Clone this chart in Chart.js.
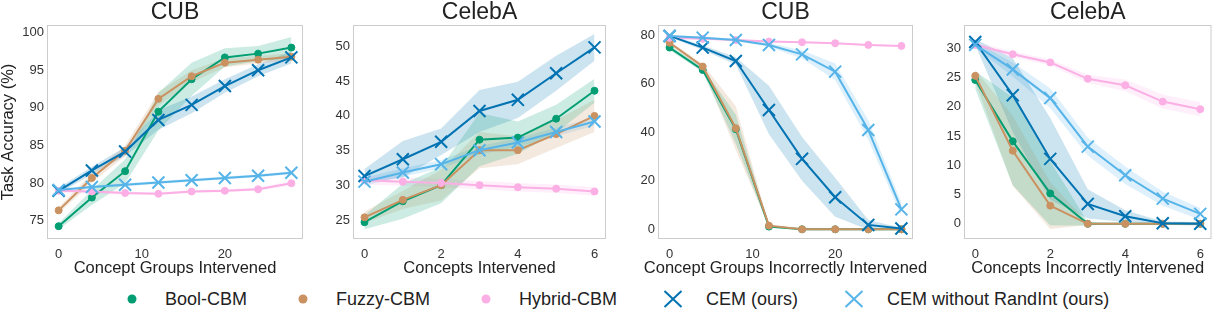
<!DOCTYPE html>
<html>
<head>
<meta charset="utf-8">
<script src="https://cdn.jsdelivr.net/npm/chart.js@4.4.1/dist/chart.umd.min.js"></script>
<style>
  body { margin: 0; background: #fff; width: 1222px; height: 311px; overflow: hidden; position: relative;
         font-family: "Liberation Sans", Arial, sans-serif; }
  canvas.panel { position: absolute; left: 0; top: 0; }
  #legend { position: absolute; left: 122px; top: 289px; height: 20px; display: flex; align-items: center;
            font-size: 18px; color: #222; white-space: nowrap; }
  .item { display: flex; align-items: center; margin-right: 46px; }
  .item svg { margin-right: 23px; }
</style>
</head>
<body>
<canvas id="p1" class="panel" width="1222" height="280"></canvas>
<canvas id="p2" class="panel" width="1222" height="280"></canvas>
<canvas id="p3" class="panel" width="1222" height="280"></canvas>
<canvas id="p4" class="panel" width="1222" height="280"></canvas>
<div id="legend"></div>
<script>
// series (same order in every panel)
const seriesNames = ["Bool-CBM", "Fuzzy-CBM", "Hybrid-CBM", "CEM (ours)", "CEM without RandInt (ours)"];
const seriesColors = ["#029e73", "#ca9161", "#fbafe4", "#0173b2", "#56b4e9"];
const seriesMarkers = ["circle", "circle", "circle", "crossRot", "crossRot"];

// x values
const cubSteps = [0, 4, 8, 12, 16, 20, 24, 28];
const celebaSteps = [0, 1, 2, 3, 4, 5, 6];

// tick labels
const cubXTicks = [0, 10, 20];
const celebaXTicks = [0, 2, 4, 6];
const cubYTicks = [75, 80, 85, 90, 95, 100];
const celebaYTicks = [25, 30, 35, 40, 45, 50];
const cubWrongYTicks = [0, 20, 40, 60, 80];
const celebaWrongYTicks = [0, 5, 10, 15, 20, 25, 30];

// CUB, concept groups intervened (mean / spread)
const cubBool = [74.3, 78.1, 81.6, 89.5, 93.8, 96.7, 97.2, 98.0];
const cubBoolSd = [0.4, 1.0, 1.6, 2.5, 2.2, 1.2, 1.0, 1.4];
const cubFuzzy = [76.4, 80.7, 84.3, 91.2, 94.2, 96.0, 96.4, 96.8];
const cubFuzzySd = [0.4, 0.6, 0.7, 0.9, 0.8, 0.6, 0.5, 0.5];
const cubHybrid = [79.0, 78.9, 78.7, 78.6, 78.9, 79.0, 79.2, 80.0];
const cubHybridSd = [0.3, 0.3, 0.2, 0.2, 0.2, 0.2, 0.2, 0.3];
const cubCem = [79.0, 81.7, 84.2, 88.4, 90.4, 92.9, 95.0, 96.7];
const cubCemSd = [0.4, 0.5, 0.6, 1.3, 1.1, 0.9, 0.8, 0.8];
const cubCemNoRand = [79.1, 79.5, 79.8, 80.1, 80.4, 80.7, 81.0, 81.4];
const cubCemNoRandSd = [0.2, 0.2, 0.2, 0.2, 0.2, 0.2, 0.2, 0.2];

// CelebA, concepts intervened
const celebaBool = [24.8, 27.8, 30.1, 36.6, 36.9, 39.6, 43.6];
const celebaBoolSd = [1.0, 2.5, 2.6, 3.8, 2.3, 2.0, 1.7];
const celebaFuzzy = [25.5, 28.0, 30.1, 35.1, 35.1, 37.4, 40.0];
const celebaFuzzySd = [0.8, 1.3, 2.2, 2.6, 2.0, 2.0, 2.3];
const celebaHybrid = [30.8, 30.6, 30.4, 30.1, 29.8, 29.6, 29.2];
const celebaHybridSd = [0.6, 0.6, 0.6, 0.6, 0.6, 0.6, 0.6];
const celebaCem = [31.4, 33.8, 36.3, 40.7, 42.3, 46.1, 49.8];
const celebaCemSd = [1.0, 2.6, 1.9, 3.0, 2.6, 2.5, 1.9];
const celebaCemNoRand = [30.6, 31.9, 33.1, 35.1, 36.2, 37.7, 39.2];
const celebaCemNoRandSd = [0.6, 0.6, 0.6, 0.6, 0.6, 0.6, 0.6];

// CUB, concept groups incorrectly intervened
const cubWrongBool = [74.8, 65.6, 41.2, 1.1, 0, 0, 0, 0];
const cubWrongBoolSd = [1.0, 1.0, 6.0, 0.5, 0, 0, 0, 0];
const cubWrongFuzzy = [76.8, 67.0, 41.6, 1.5, 0, 0, 0, 0];
const cubWrongFuzzySd = [0.8, 1.0, 9.0, 0.5, 0, 0, 0, 0];
const cubWrongHybrid = [78.8, 78.4, 77.9, 77.3, 77.0, 76.6, 75.9, 75.5];
const cubWrongHybridSd = [0.3, 0.3, 0.3, 0.3, 0.3, 0.3, 0.3, 0.3];
const cubWrongCem = [79.6, 74.8, 69.3, 49.1, 29.0, 13.2, 1.8, 0.3];
const cubWrongCemSd = [0.5, 1.0, 1.5, 10.0, 9.0, 8.0, 2.0, 0.3];
const cubWrongCemNoRand = [79.6, 78.9, 77.9, 75.9, 72.0, 64.9, 40.9, 8.2];
const cubWrongCemNoRandSd = [0.3, 0.5, 0.5, 0.8, 1.7, 3.4, 4.0, 2.7];

// CelebA, concepts incorrectly intervened
const celebaWrongBool = [24.6, 14.1, 5.2, 0, 0, 0, 0];
const celebaWrongBoolSd = [1.5, 7.5, 5.5, 0.3, 0, 0, 0];
const celebaWrongFuzzy = [25.3, 12.5, 3.1, 0, 0, 0, 0];
const celebaWrongFuzzySd = [1.0, 6.0, 4.0, 0.2, 0, 0, 0];
const celebaWrongHybrid = [30.6, 29.0, 27.6, 24.8, 23.7, 20.9, 19.6];
const celebaWrongHybridSd = [0.4, 0.5, 0.5, 0.7, 1.0, 1.2, 1.2];
const celebaWrongCem = [31.1, 22.0, 11.1, 3.4, 1.3, 0.1, 0];
const celebaWrongCemSd = [0.5, 6.3, 7.0, 2.5, 1.0, 0.3, 0.3];
const celebaWrongCemNoRand = [30.6, 26.4, 21.5, 13.2, 8.3, 4.3, 1.7];
const celebaWrongCemNoRandSd = [0.5, 1.2, 1.7, 1.5, 1.5, 1.2, 1.0];

function rgba(hex, a) {
  const n = parseInt(hex.slice(1), 16);
  return `rgba(${n >> 16},${(n >> 8) & 255},${n & 255},${a})`;
}

const frame = {
  id: "frame",
  beforeDatasetsDraw(chart) {
    const a = chart.chartArea, c = chart.ctx;
    c.save();
    c.strokeStyle = "#cccccc";
    c.lineWidth = 1;
    c.strokeRect(a.left + 0.5, a.top + 0.5, a.right - a.left - 1, a.bottom - a.top - 1);
    c.restore();
  }
};

// x axis label drawn centred under the plot, allowed to run past its edges
const xLabel = {
  id: "xLabel",
  afterDraw(chart, args, opts) {
    const a = chart.chartArea, c = chart.ctx;
    c.save();
    c.font = '16.5px "Liberation Sans"';
    c.fillStyle = "#222";
    c.textAlign = "center";
    c.textBaseline = "middle";
    c.fillText(opts.text, (a.left + a.right) / 2, 268);
    c.restore();
  }
};

function makePanel(id, p) {
  const datasets = [];
  p.means.forEach((mean, i) => {
    const sd = p.sds[i];
    datasets.push({
      data: p.steps.map((x, j) => ({ x, y: mean[j] + sd[j] })),
      borderWidth: 0, pointRadius: 0, fill: false, order: 20 + i
    });
    datasets.push({
      data: p.steps.map((x, j) => ({ x, y: mean[j] - sd[j] })),
      borderWidth: 0, pointRadius: 0, fill: "-1",
      backgroundColor: rgba(seriesColors[i], 0.2), order: 20 + i
    });
  });
  p.means.forEach((mean, i) => {
    const cross = seriesMarkers[i] === "crossRot";
    datasets.push({
      label: seriesNames[i],
      data: p.steps.map((x, j) => ({ x, y: mean[j] })),
      borderColor: seriesColors[i],
      backgroundColor: seriesColors[i],
      borderWidth: 2,
      pointStyle: seriesMarkers[i],
      pointRadius: cross ? 8.5 : 3.5,
      pointBorderWidth: cross ? 2 : 1,
      pointBorderColor: seriesColors[i],
      fill: false,
      tension: 0,
      order: 5 - i
    });
  });

  new Chart(document.getElementById(id), {
    type: "line",
    data: { datasets },
    plugins: [frame, xLabel],
    options: {
      responsive: false,
      animation: false,
      layout: { padding: { left: p.left - p.yWidth, right: 1222 - p.right, top: 0, bottom: 0 } },
      plugins: {
        legend: { display: false },
        tooltip: { enabled: false },
        xLabel: { text: p.xLabel },
        title: {
          display: true, text: p.title, fullSize: false, color: "#222",
          font: { family: "Liberation Sans", size: 23, weight: "normal", lineHeight: 1 },
          padding: { top: 1, bottom: 1 }
        }
      },
      scales: {
        x: {
          type: "linear", min: p.xMin, max: p.xMax,
          grid: { display: false, drawTicks: false },
          border: { display: false },
          afterBuildTicks: s => { s.ticks = p.xTicks.map(v => ({ value: v })); },
          afterFit: s => { s.height = 41; },
          ticks: { color: "#333", font: { family: "Liberation Sans", size: 13 }, padding: 8, maxRotation: 0 },
          title: { display: false }
        },
        y: {
          min: p.yMin, max: p.yMax,
          grid: { display: false, drawTicks: false },
          border: { display: false },
          afterBuildTicks: s => { s.ticks = p.yTicks.map(v => ({ value: v })); },
          afterFit: s => { s.width = p.yWidth; },
          ticks: { color: "#333", font: { family: "Liberation Sans", size: 13 }, padding: 3 },
          title: {
            display: !!p.yLabel, text: p.yLabel || "", color: "#222",
            font: { family: "Liberation Sans", size: 16.5, lineHeight: 1 }, padding: { top: 0, bottom: 0 }
          }
        }
      }
    }
  });
}

makePanel("p1", {
  title: "CUB", xLabel: "Concept Groups Intervened", yLabel: "Task Accuracy (%)",
  steps: cubSteps, xMin: -1.4, xMax: 29.4, yMin: 72.6, yMax: 101,
  xTicks: cubXTicks, yTicks: cubYTicks, left: 47, right: 303, yWidth: 47,
  means: [cubBool, cubFuzzy, cubHybrid, cubCem, cubCemNoRand],
  sds: [cubBoolSd, cubFuzzySd, cubHybridSd, cubCemSd, cubCemNoRandSd]
});
makePanel("p2", {
  title: "CelebA", xLabel: "Concepts Intervened",
  steps: celebaSteps, xMin: -0.3, xMax: 6.3, yMin: 22.4, yMax: 53,
  xTicks: celebaXTicks, yTicks: celebaYTicks, left: 353, right: 606, yWidth: 40,
  means: [celebaBool, celebaFuzzy, celebaHybrid, celebaCem, celebaCemNoRand],
  sds: [celebaBoolSd, celebaFuzzySd, celebaHybridSd, celebaCemSd, celebaCemNoRandSd]
});
makePanel("p3", {
  title: "CUB", xLabel: "Concept Groups Incorrectly Intervened",
  steps: cubSteps, xMin: -1.4, xMax: 29.4, yMin: -4, yMax: 84.1,
  xTicks: cubXTicks, yTicks: cubWrongYTicks, left: 658, right: 913, yWidth: 40,
  means: [cubWrongBool, cubWrongFuzzy, cubWrongHybrid, cubWrongCem, cubWrongCemNoRand],
  sds: [cubWrongBoolSd, cubWrongFuzzySd, cubWrongHybridSd, cubWrongCemSd, cubWrongCemNoRandSd]
});
makePanel("p4", {
  title: "CelebA", xLabel: "Concepts Incorrectly Intervened",
  steps: celebaSteps, xMin: -0.3, xMax: 6.3, yMin: -2.6, yMax: 34,
  xTicks: celebaXTicks, yTicks: celebaWrongYTicks, left: 964, right: 1218, yWidth: 40,
  means: [celebaWrongBool, celebaWrongFuzzy, celebaWrongHybrid, celebaWrongCem, celebaWrongCemNoRand],
  sds: [celebaWrongBoolSd, celebaWrongFuzzySd, celebaWrongHybridSd, celebaWrongCemSd, celebaWrongCemNoRandSd]
});

// shared legend under the panels
const legend = document.getElementById("legend");
seriesNames.forEach((name, i) => {
  const item = document.createElement("div");
  item.className = "item";
  const c = seriesColors[i];
  const mark = seriesMarkers[i] === "circle"
    ? `<circle cx="10" cy="10" r="4.5" fill="${c}"/>`
    : `<path d="M1.5 2 L18.5 18 M18.5 2 L1.5 18" stroke="${c}" stroke-width="2"/>`;
  item.innerHTML = `<svg width="20" height="20" viewBox="0 0 20 20">${mark}</svg><span>${name}</span>`;
  legend.appendChild(item);
});
</script>
</body>
</html>
